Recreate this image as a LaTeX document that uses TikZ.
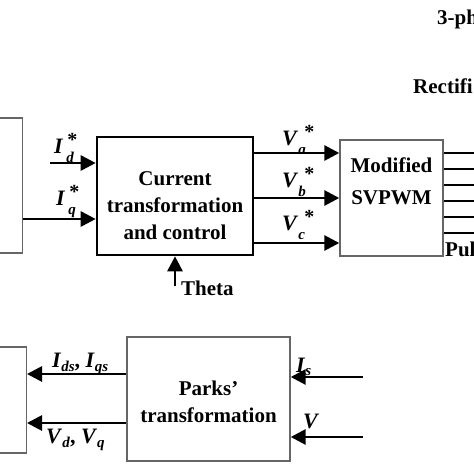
\documentclass[tikz,border=0pt]{standalone}
\usepackage{fontspec}
\setmainfont{Liberation Serif}
\usetikzlibrary{arrows.meta}
\newcommand{\bv}[1]{\textbf{\textit{#1}}}
\newcommand{\subix}[2][9pt]{\raisebox{-#1}{\fontsize{15}{15}\selectfont\bv{#2}}}
\newcommand{\refix}[2][2pt]{\makebox[0pt][l]{\hspace{#1}\raisebox{7pt}{\fontsize{20}{20}\selectfont\textbf{*}}}\subix{#2}}

\begin{document}
\begin{tikzpicture}[x=1pt,y=-1pt,>={Triangle[length=15pt,width=15pt]},
  font=\fontsize{21}{27}\selectfont\bfseries]
\tikzset{
  thinbox/.style={draw=black!60,line width=1.4pt,inner sep=0pt},
  thickbox/.style={draw,line width=2.6pt,inner sep=0pt},
  sig/.style={->,line width=2.8pt},
  lab/.style={inner sep=0pt,anchor=base west,font=\fontsize{22}{27}\selectfont\bfseries}
}
\useasboundingbox (0,0) rectangle (474,474);
\clip (0,0) rectangle (474,474);

% blocks
\node[thinbox,anchor=east,minimum width=80,minimum height=135] (ctrl) at (23,185.5) {};
\node[thickbox,minimum width=156,minimum height=118] (cur) at (175,196) {};
\node[align=center] (curtxt) at (175,206) {Current\\transformation\\and control};
\node[thinbox,minimum width=103,minimum height=116] (sv) at (391.5,198) {};
\node[align=center] (svtxt) at (391.5,181) {Modified\\[5pt]SVPWM};
\node[thinbox,anchor=east,minimum width=80,minimum height=106] (meas) at (27,400) {};
\node[thinbox,minimum width=163,minimum height=124] (parks) at (208.5,399) {};
\node[align=center] (parkstxt) at (208.5,401.5) {Parks’\\transformation};

% reference currents
\coordinate (idin) at (50,163);
\coordinate (iqin) at (23,219);
\draw[sig] (idin) -- (idin -| cur.west);
\draw[sig] (iqin) -- (iqin -| cur.west);
\node[lab] (idlab) at (54,153) {\bv{I}\kern3pt\refix[1pt]{d}};
\node[lab] (iqlab) at (56,205) {\bv{I}\kern3pt\refix[1pt]{q}};

% angle input
\coordinate (thin) at (175,286);
\draw[sig] (thin) -- (cur.south);
\node[inner sep=0pt,anchor=west] (thlab) at (181,288) {Theta};

% voltage references
\foreach \n/\y/\b in {a/153/145,b/198/187,c/243/230}{
  \coordinate (v\n) at (253,\y);
  \draw[sig] (v\n -| cur.east) -- (v\n -| sv.west);
  \node[lab] (v\n lab) at (282,\b) {\bv{V}\refix[6pt]{\n}};
}

% pulses
\foreach \i/\y in {1/153,2/169,3/185,4/201,5/217,6/233}{
  \coordinate (pl\i) at (480,\y);
  \draw[line width=2.8pt] (pl\i -| sv.east) -- (pl\i);
}
\node[inner sep=0pt,anchor=west] (pul) at (445,249) {Pul};

\node[inner sep=0pt,anchor=west] (phase) at (437,19) {3-ph};
\node[inner sep=0pt,anchor=west] (rect) at (413,86) {Rectifi};

% feedback
\coordinate (idsq) at (127,374);
\coordinate (vdq) at (127,423);
\draw[sig] (idsq -| parks.west) -- (idsq -| meas.east);
\draw[sig] (vdq -| parks.west) -- (vdq -| meas.east);
\node[lab] (idsqlab) at (52,367) {\bv{I}\subix[4pt]{ds}\textbf{,} \bv{I}\subix[4pt]{qs}};
\node[lab] (vdqlab) at (46,443) {\bv{V}\subix[4pt]{d}\textbf{,} \bv{V}\subix[4pt]{q}};

\coordinate (isin) at (363,377);
\coordinate (vin) at (363,437);
\draw[sig] (isin) -- (isin -| parks.east);
\draw[sig] (vin) -- (vin -| parks.east);
\node[lab] (islab) at (296,372) {\bv{I}\subix[3pt]{s}};
\node[lab] (vlab) at (303,428) {\bv{V}};
\end{tikzpicture}
\end{document}
